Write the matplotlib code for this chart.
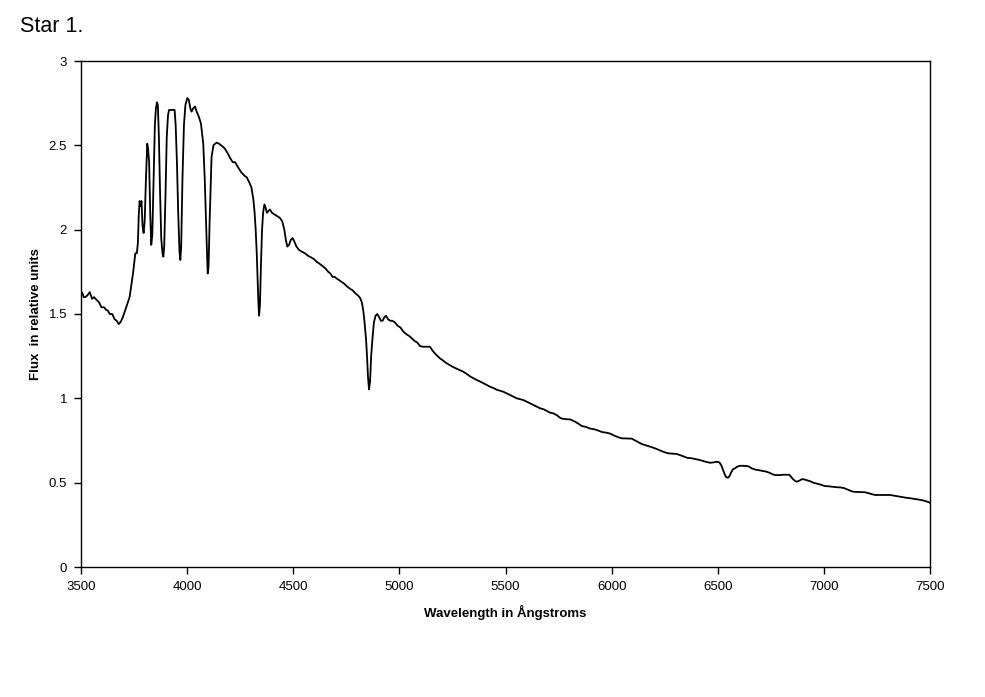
import matplotlib
matplotlib.use("Agg")
import matplotlib.pyplot as plt

# Wavelength (Angstrom) and flux values
wavelength = [
    3500, 3506, 3513, 3520, 3530, 3541, 3552, 3562, 3572, 3585, 3596, 3608,
    3619, 3627, 3635, 3647, 3659, 3668, 3678, 3688, 3698, 3713, 3729, 3745,
    3756, 3763, 3768, 3772, 3776, 3780, 3785, 3790, 3795, 3800, 3806, 3812,
    3816, 3821, 3826, 3831, 3836, 3842, 3848, 3853, 3858, 3862, 3867, 3872,
    3878, 3884, 3888, 3892, 3898, 3904, 3910, 3915, 3925, 3935, 3941, 3946,
    3952, 3958, 3964, 3968, 3972, 3978, 3985, 3992, 4001, 4008, 4015, 4021,
    4029, 4037, 4045, 4055, 4065, 4076, 4083, 4089, 4094, 4097, 4101, 4106,
    4115, 4124, 4132, 4139, 4150, 4160, 4170, 4178, 4190, 4205, 4215, 4226,
    4240, 4255, 4270, 4281, 4293, 4303, 4312, 4318, 4323, 4328, 4333, 4336,
    4339, 4343, 4348, 4353, 4358, 4364, 4370, 4376, 4383, 4390, 4400, 4412,
    4425, 4437, 4448, 4458, 4465, 4472, 4480, 4489, 4497, 4505, 4515, 4527,
    4540, 4555, 4570, 4585, 4598, 4610, 4622, 4632, 4642, 4652, 4665, 4675,
    4685, 4695, 4705, 4717, 4728, 4740, 4752, 4767, 4780, 4795, 4805, 4815,
    4823, 4830, 4836, 4843, 4848, 4852, 4857, 4862, 4867, 4873, 4880, 4888,
    4896, 4905, 4913, 4921, 4929, 4937, 4946, 4956, 4967, 4979, 4992, 5005,
    5019, 5033, 5046, 5058, 5072, 5085, 5097, 5110, 5125, 5144, 5158, 5172,
    5191, 5205, 5220, 5233, 5247, 5262, 5280, 5301, 5317, 5333, 5348, 5364,
    5380, 5395, 5410, 5427, 5445, 5460, 5475, 5490, 5505, 5521, 5537, 5553,
    5568, 5584, 5600, 5617, 5632, 5648, 5663, 5680, 5695, 5710, 5725, 5742,
    5757, 5765, 5788, 5805, 5827, 5843, 5859, 5880, 5900, 5914, 5935, 5955,
    5977, 5995, 6010, 6030, 6047, 6070, 6095, 6118, 6142, 6165, 6190, 6212,
    6230, 6250, 6267, 6290, 6307, 6330, 6354, 6375, 6395, 6416, 6440, 6463,
    6480, 6495, 6508, 6518, 6528, 6538, 6545, 6550, 6556, 6563, 6572, 6581,
    6592, 6605, 6620, 6636, 6648, 6660, 6675, 6690, 6702, 6715, 6730, 6745,
    6758, 6770, 6790, 6810, 6825, 6837, 6845, 6855, 6865, 6872, 6882, 6895,
    6906, 6918, 6932, 6950, 6965, 6980, 7005, 7025, 7045, 7060, 7076, 7095,
    7110, 7125, 7139, 7160, 7178, 7194, 7210, 7225, 7241, 7260, 7280, 7297,
    7312, 7330, 7345, 7360, 7374, 7390, 7405, 7420, 7437, 7455, 7470, 7485,
    7495, 7500,
]
flux = [
    1.62, 1.626, 1.60, 1.60, 1.61, 1.63, 1.59, 1.60, 1.585, 1.57, 1.54, 1.54,
    1.524, 1.52, 1.50, 1.50, 1.468, 1.46, 1.44, 1.455, 1.484, 1.54, 1.60, 1.74,
    1.86, 1.86, 1.92, 2.08, 2.17, 2.14, 2.17, 2.02, 1.98, 2.05, 2.30, 2.51,
    2.48, 2.40, 2.10, 1.91, 1.97, 2.30, 2.62, 2.72, 2.755, 2.74, 2.55, 2.25,
    1.95, 1.86, 1.84, 1.90, 2.20, 2.55, 2.68, 2.71, 2.71, 2.71, 2.71, 2.62,
    2.40, 2.10, 1.87, 1.82, 1.90, 2.30, 2.62, 2.74, 2.78, 2.77, 2.72, 2.70,
    2.72, 2.73, 2.70, 2.67, 2.63, 2.51, 2.30, 2.05, 1.85, 1.74, 1.78, 2.05,
    2.43, 2.50, 2.51, 2.516, 2.51, 2.50, 2.49, 2.48, 2.455, 2.42, 2.40, 2.40,
    2.37, 2.34, 2.32, 2.31, 2.28, 2.25, 2.18, 2.10, 2.00, 1.86, 1.68, 1.56,
    1.49, 1.55, 1.80, 2.00, 2.10, 2.15, 2.13, 2.10, 2.11, 2.12, 2.10, 2.09,
    2.08, 2.07, 2.05, 2.00, 1.94, 1.90, 1.91, 1.94, 1.95, 1.93, 1.90, 1.88,
    1.87, 1.86, 1.845, 1.835, 1.825, 1.81, 1.80, 1.79, 1.78, 1.77, 1.75, 1.74,
    1.72, 1.72, 1.71, 1.70, 1.69, 1.68, 1.665, 1.65, 1.64, 1.62, 1.61, 1.595,
    1.57, 1.52, 1.45, 1.35, 1.24, 1.13, 1.053, 1.10, 1.25, 1.35, 1.45, 1.49,
    1.50, 1.48, 1.46, 1.46, 1.48, 1.49, 1.47, 1.46, 1.46, 1.45, 1.43, 1.42,
    1.395, 1.38, 1.37, 1.356, 1.34, 1.33, 1.31, 1.306, 1.306, 1.306, 1.28, 1.26,
    1.237, 1.225, 1.21, 1.20, 1.19, 1.18, 1.17, 1.158, 1.145, 1.13, 1.12, 1.109,
    1.10, 1.09, 1.08, 1.069, 1.06, 1.05, 1.045, 1.039, 1.03, 1.02, 1.01, 1.00,
    0.995, 0.99, 0.98, 0.97, 0.96, 0.95, 0.941, 0.935, 0.925, 0.915, 0.911, 0.90,
    0.885, 0.88, 0.876, 0.875, 0.862, 0.85, 0.836, 0.83, 0.82, 0.818, 0.81, 0.80,
    0.796, 0.79, 0.78, 0.77, 0.763, 0.762, 0.761, 0.745, 0.729, 0.72, 0.71, 0.70,
    0.69, 0.68, 0.674, 0.672, 0.67, 0.66, 0.648, 0.645, 0.64, 0.634, 0.625, 0.618,
    0.62, 0.624, 0.62, 0.60, 0.565, 0.535, 0.53, 0.53, 0.54, 0.56, 0.58, 0.585,
    0.595, 0.60, 0.60, 0.599, 0.595, 0.585, 0.578, 0.575, 0.572, 0.569, 0.565, 0.558,
    0.55, 0.545, 0.545, 0.547, 0.547, 0.547, 0.535, 0.52, 0.51, 0.506, 0.51, 0.52,
    0.52, 0.515, 0.51, 0.50, 0.495, 0.49, 0.48, 0.478, 0.475, 0.473, 0.472, 0.468,
    0.46, 0.452, 0.446, 0.445, 0.444, 0.443, 0.438, 0.432, 0.427, 0.427, 0.427, 0.427,
    0.427, 0.423, 0.42, 0.417, 0.413, 0.41, 0.408, 0.405, 0.401, 0.398, 0.394, 0.388,
    0.384, 0.38,
]

x_ticks = [3500, 4000, 4500, 5000, 5500, 6000, 6500, 7000, 7500]
y_ticks = [0, 0.5, 1, 1.5, 2, 2.5, 3]
y_tick_labels = ["0", "0.5", "1", "1.5", "2", "2.5", "3"]

plt.rcParams['font.family'] = ['Liberation Sans', 'DejaVu Sans']

fig = plt.figure(figsize=(9.85, 6.97), dpi=100)
ax = fig.add_axes([81/985, 130/697, 849/985, 506/697])

ax.plot(wavelength, flux, color='black', linewidth=1.3, solid_joinstyle='round')

ax.set_xlim(3500, 7500)
ax.set_ylim(0, 3)
ax.set_xticks(x_ticks)
ax.set_xticklabels([str(v) for v in x_ticks])
ax.set_yticks(y_ticks)
ax.set_yticklabels(y_tick_labels)
ax.tick_params(axis='both', direction='out', length=5, width=1, labelsize=9.5, pad=5)
for sp in ax.spines.values():
    sp.set_linewidth(1)
    sp.set_color('black')

ax.set_xlabel("Wavelength in Ångstroms", fontsize=9.5, fontweight='bold')
ax.set_ylabel("Flux  in relative units", fontsize=9.5, fontweight='bold')
ax.xaxis.set_label_coords(0.5, (567 - 612) / 506, transform=ax.transAxes)
ax.yaxis.set_label_coords((36 - 81) / 849, 0.5, transform=ax.transAxes)
ax.xaxis.label.set_va('center')
ax.yaxis.label.set_va('center')

fig.text(20/985, 1 - 27/697, "Star 1.", fontsize=15.5, ha='left', va='center')

fig.savefig("out.png", dpi=100, facecolor='white')
